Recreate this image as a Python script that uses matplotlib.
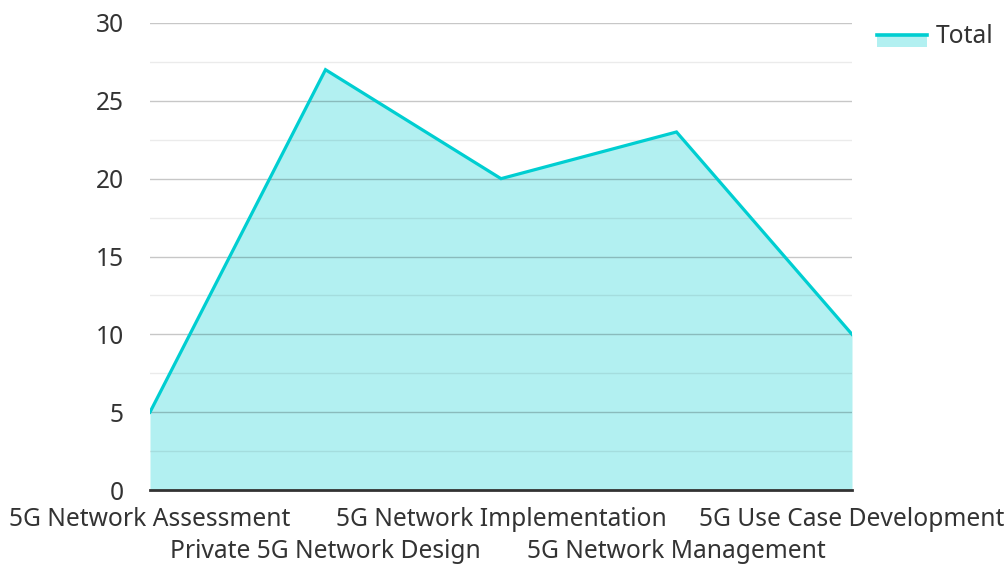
import matplotlib
matplotlib.use("Agg")
import matplotlib.pyplot as plt
import matplotlib.transforms as mtransforms
from matplotlib.legend_handler import HandlerBase
from matplotlib.patches import Rectangle
from matplotlib.lines import Line2D

categories = ["5G Network Assessment", "Private 5G Network Design",
              "5G Network Implementation", "5G Network Management",
              "5G Use Case Development"]
totals = [5, 27, 20, 23, 10]
yticks = [0, 5, 10, 15, 20, 25, 30]
series_name = "Total"

LINE = "#00CED1"
FILL = "#B2F0F1"
TEXT = "#333333"
FS = 17.7

plt.rcParams['font.family'] = ['Noto Sans', 'DejaVu Sans']

fig = plt.figure(figsize=(10.07, 5.64), dpi=100)
ax = fig.add_axes([150/1007, 1 - 490/564, (852-150)/1007, (490-23)/564])

x = list(range(len(categories)))
ax.fill_between(x, 0, totals, color=FILL, linewidth=0, zorder=1)
ax.plot(x, totals, color=LINE, linewidth=2.3, zorder=4, solid_joinstyle='miter')

ax.set_xlim(0, len(categories) - 1)
ax.set_ylim(0, 30)
ax.set_yticks(yticks)
ax.set_yticks([2.5 + 5*i for i in range(6)], minor=True)
ax.grid(axis='y', which='major', color='#000000', alpha=0.22, linewidth=1, zorder=2)
ax.grid(axis='y', which='minor', color='#000000', alpha=0.08, linewidth=1, zorder=2)
ax.set_axisbelow(False)
ax.tick_params(axis='y', which='both', length=0, pad=19, labelsize=FS, labelcolor=TEXT)
ax.tick_params(axis='x', length=0)
ax.set_xticks([])
for s in ['top', 'right', 'left']:
    ax.spines[s].set_visible(False)
ax.spines['bottom'].set_color('#333333')
ax.spines['bottom'].set_linewidth(2)
ax.spines['bottom'].set_zorder(5)

trans = mtransforms.blended_transform_factory(ax.transData, ax.transAxes)
for i, c in enumerate(categories):
    off = -30/467 if i % 2 == 0 else -62/467
    ax.text(i, off, c, transform=trans, ha='center', va='center',
            fontsize=FS, color=TEXT, clip_on=False)


class AreaHandler(HandlerBase):
    def create_artists(self, legend, orig_handle, xdescent, ydescent,
                       width, height, fontsize, trans):
        c = -ydescent + height / 2
        r = Rectangle((-xdescent, c - 9.0), width, 8.3,
                      facecolor=FILL, edgecolor='none', transform=trans)
        l = Line2D([-xdescent, -xdescent + width], [c - 0.7, c - 0.7],
                   color=LINE, linewidth=2.6, transform=trans)
        return [r, l]


handle = Rectangle((0, 0), 1, 1)
leg = fig.legend([handle], [series_name], handler_map={Rectangle: AreaHandler()},
                 loc='center left', bbox_to_anchor=(877/1007, 1 - 36.5/564),
                 frameon=False, fontsize=FS, handlelength=2.03, handleheight=0.7,
                 handletextpad=0.36, borderpad=0, borderaxespad=0)
for t in leg.get_texts():
    t.set_color(TEXT)

fig.savefig("out.png", dpi=100)
